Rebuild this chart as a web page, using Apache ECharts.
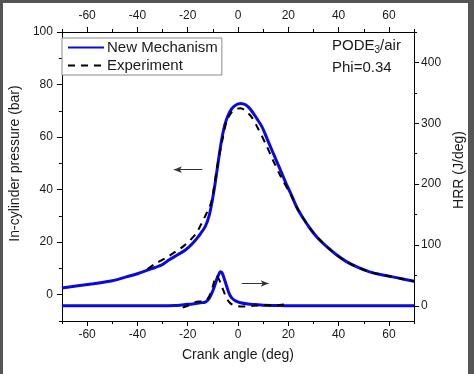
<!DOCTYPE html>
<html>
<head>
<meta charset="utf-8">
<script src="https://cdn.jsdelivr.net/npm/echarts@6/dist/echarts.min.js"></script>
<style>
html,body{margin:0;padding:0;background:#fff;}
#c{width:474px;height:374px;}
</style>
</head>
<body>
<div id="c"></div>
<script>
// ---- data ----
const xMajorTicks = [-60, -40, -20, 0, 20, 40, 60];
const xMinorTicks = [-70, -50, -30, -10, 10, 30, 50, 70];
const pMajorTicks = [0, 20, 40, 60, 80, 100];
const pMinorTicks = [-10, 10, 30, 50, 70, 90];
const hMajorTicks = [0, 100, 200, 300, 400];
const hMinorTicks = [50, 150, 250, 350, 450];

const simPressureAngle = [-70, -57.5, -50, -44.4, -40, -34, -30, -27.5, -24, -20.9, -18, -15.7, -13, -11.5, -10.2, -9, -7.8, -6.5, -5, -3.3, -1.5, 1, 3, 5, 7.5, 9.5, 11.5, 13.5, 15.5, 17.5, 19.5, 21, 23.5, 26, 28.5, 31.5, 35.3, 39, 43.1, 47.5, 52.3, 57, 61.4, 65.5, 70];
const simPressure = [2.6, 4.2, 5.3, 6.8, 8.0, 10.0, 11.5, 13.2, 15.2, 17.0, 19.6, 22.2, 26.0, 30.0, 36.0, 43.0, 51.0, 59.0, 65.5, 69.6, 71.8, 72.8, 72.3, 70.5, 67.0, 64.0, 59.5, 55.0, 50.5, 46.0, 41.5, 38.5, 33.0, 29.0, 25.4, 21.8, 18.3, 15.3, 12.6, 10.5, 8.7, 7.6, 6.8, 6.0, 5.1];

const expPressureAngle = [-36, -32.7, -28.7, -24.8, -21.5, -18.9, -16.5, -14.4, -12.5, -10.7, -9.5, -8.4, -6.4, -4.4, -2.5, -1, 1, 3, 5.5, 8, 11.3, 14, 17, 21, 23.5, 28.5, 35.3, 43.1, 52.3, 61.4, 70];
const expPressure = [9.8, 11.9, 14.0, 16.4, 18.6, 20.9, 23.5, 27.3, 31.0, 35.0, 41.0, 48.0, 58.0, 66.4, 69.5, 70.6, 71.0, 70.0, 67.5, 63.2, 56.8, 51.0, 45.0, 38.0, 33.0, 25.4, 18.3, 12.6, 8.7, 6.8, 5.1];

const simHrrAngle = [-70, -40, -25, -21, -18, -15, -13, -11.5, -10.5, -9.5, -8.5, -7.5, -7, -6.3, -5.5, -4.5, -3.5, -2.5, -1, 1, 4, 7, 10, 15, 20, 70];
const simHrr = [0, 0, 0.5, 2, 3, 5, 6, 12, 20, 30, 43, 53, 56, 54, 45, 32, 20, 13, 8, 5, 3, 2, 1, 0.5, 0, 0];

const expHrrAngle = [-22, -20, -17, -14, -12, -10.5, -9.5, -8.8, -8, -7, -5.5, -4.5, -3, -1, 1, 3, 6, 10, 15, 18, 20];
const expHrr = [-3, 0, 6, 8, 12, 25, 40, 49, 47, 38, 22, 12, 4, 0, -1, -1, 0, 1, 1, 2, 0];

const leftArrow = [[-14.2, 47.6], [-25.5, 47.6]];
const rightArrow = [[1.5, 36.7], [12.2, 36.7]];

function pairs(xs, ys) { return xs.map((x, i) => [x, ys[i]]); }

const FONT = 'Liberation Sans, Arial, sans-serif';
const TXT = '#1a1a1a';

function xAxisDef(pos, ticks, major, margin) {
  return {
    type: 'value', position: pos, min: -70, max: 70, gridIndex: 0,
    axisLine: { show: true, onZero: false, lineStyle: { color: '#000', width: 1 } },
    axisTick: { show: true, inside: false, length: major ? 5 : 3, customValues: ticks, lineStyle: { color: '#000', width: 1 } },
    axisLabel: { show: major, customValues: ticks, margin: margin, color: TXT, fontSize: 12, fontFamily: FONT },
    splitLine: { show: false }
  };
}
function yAxisDef(pos, min, max, ticks, major, margin) {
  return {
    type: 'value', position: pos, min: min, max: max, gridIndex: 0,
    axisLine: { show: true, onZero: false, lineStyle: { color: '#000', width: 1 } },
    axisTick: { show: true, inside: false, length: major ? 5 : 3, customValues: ticks, lineStyle: { color: '#000', width: 1 } },
    axisLabel: { show: major, customValues: ticks, margin: margin, color: TXT, fontSize: 12, fontFamily: FONT },
    splitLine: { show: false }
  };
}

const xBottom = xAxisDef('bottom', xMajorTicks, true, 8);
xBottom.name = 'Crank angle (deg)';
xBottom.nameLocation = 'middle';
xBottom.nameGap = 27;
xBottom.nameTextStyle = { fontSize: 14, color: TXT, fontFamily: FONT };

const yLeft = yAxisDef('left', -10, 100, pMajorTicks, true, 9);
yLeft.name = 'In-cylinder pressure (bar)';
yLeft.nameLocation = 'middle';
yLeft.nameGap = 31;
yLeft.nameTextStyle = { fontSize: 14, color: TXT, fontFamily: FONT, padding: [0, 0, 0, 26] };

const yRight = yAxisDef('right', -25, 450, hMajorTicks, true, 7);
yRight.name = 'HRR (J/deg)';
yRight.nameLocation = 'middle';
yRight.nameGap = 33;
yRight.nameTextStyle = { fontSize: 14, color: TXT, fontFamily: FONT, padding: [0, 0, 0, 13] };

const BLUE = '#0a0ae0';

const option = {
  animation: false,
  backgroundColor: '#fff',
  grid: { left: 59, right: 56, top: 32, bottom: 53, containLabel: false },
  xAxis: [
    xBottom,
    xAxisDef('bottom', xMinorTicks, false, 8),
    xAxisDef('top', xMajorTicks, true, 10),
    xAxisDef('top', xMinorTicks, false, 10)
  ],
  yAxis: [
    yLeft,
    yAxisDef('left', -10, 100, pMinorTicks, false, 9),
    yRight,
    yAxisDef('right', -25, 450, hMinorTicks, false, 7)
  ],
  legend: {
    orient: 'vertical', left: 62, top: 38,
    data: ['New Mechanism', 'Experiment'],
    backgroundColor: '#fff', borderColor: '#8a8a8a', borderWidth: 1, borderRadius: 0,
    padding: [2, 4, 2, 5], itemGap: 3, itemWidth: 36, itemHeight: 14,
    itemStyle: { color: 'rgba(0,0,0,0)', borderWidth: 0, opacity: 0 },
    textStyle: { fontSize: 15, color: TXT, fontFamily: FONT, padding: [0, 0, 0, -2] },
    selectedMode: false
  },
  graphic: [
    { type: 'rect', left: 0, top: 0, shape: { width: 3, height: 374 }, style: { fill: '#555' }, silent: true },
    { type: 'rect', left: 0, top: 0, shape: { width: 474, height: 3 }, style: { fill: '#555' }, silent: true },
    { type: 'rect', left: 468, top: 0, shape: { width: 6, height: 374 }, style: { fill: '#555' }, silent: true },
    { type: 'text', left: 332, top: 38, silent: true,
      style: { text: 'PODE{s|3}/air', fill: TXT, font: '15px ' + FONT,
        rich: { s: { fontSize: 10, fontFamily: FONT, fill: TXT, verticalAlign: 'bottom', padding: [9, 0, 0, 0] } } } },
    { type: 'text', left: 332, top: 60, silent: true,
      style: { text: 'Phi=0.34', fill: TXT, font: '15px ' + FONT } }
  ],
  series: [
    {
      name: 'New Mechanism', type: 'line', xAxisIndex: 0, yAxisIndex: 0,
      data: pairs(simPressureAngle, simPressure), symbol: 'none', smooth: 0.3,
      lineStyle: { color: BLUE, width: 3 }, itemStyle: { color: BLUE }, z: 2,
      markLine: {
        silent: true, symbol: ['none', 'arrow'], symbolSize: [5, 8],
        label: { show: false },
        lineStyle: { color: '#333', width: 1, type: 'solid' },
        data: [[{ coord: leftArrow[0] }, { coord: leftArrow[1] }]]
      }
    },
    {
      name: 'New Mechanism', type: 'line', xAxisIndex: 0, yAxisIndex: 2,
      data: pairs(simHrrAngle, simHrr), symbol: 'none', smooth: 0.3,
      lineStyle: { color: BLUE, width: 3 }, itemStyle: { color: BLUE }, z: 2,
      markLine: {
        silent: true, symbol: ['none', 'arrow'], symbolSize: [5, 8],
        label: { show: false },
        lineStyle: { color: '#333', width: 1, type: 'solid' },
        data: [[{ coord: rightArrow[0] }, { coord: rightArrow[1] }]]
      }
    },
    {
      name: 'Experiment', type: 'line', xAxisIndex: 0, yAxisIndex: 0,
      data: pairs(expPressureAngle, expPressure), symbol: 'none', smooth: 0.3,
      lineStyle: { color: '#000', width: 2, type: [7, 6] }, itemStyle: { color: '#000' }, z: 3
    },
    {
      name: 'Experiment', type: 'line', xAxisIndex: 0, yAxisIndex: 2,
      data: pairs(expHrrAngle, expHrr), symbol: 'none', smooth: 0.3,
      lineStyle: { color: '#000', width: 2, type: [7, 6] }, itemStyle: { color: '#000' }, z: 3
    }
  ]
};

const chart = echarts.init(document.getElementById('c'), null, { renderer: 'canvas' });
chart.setOption(option);
</script>
</body>
</html>
